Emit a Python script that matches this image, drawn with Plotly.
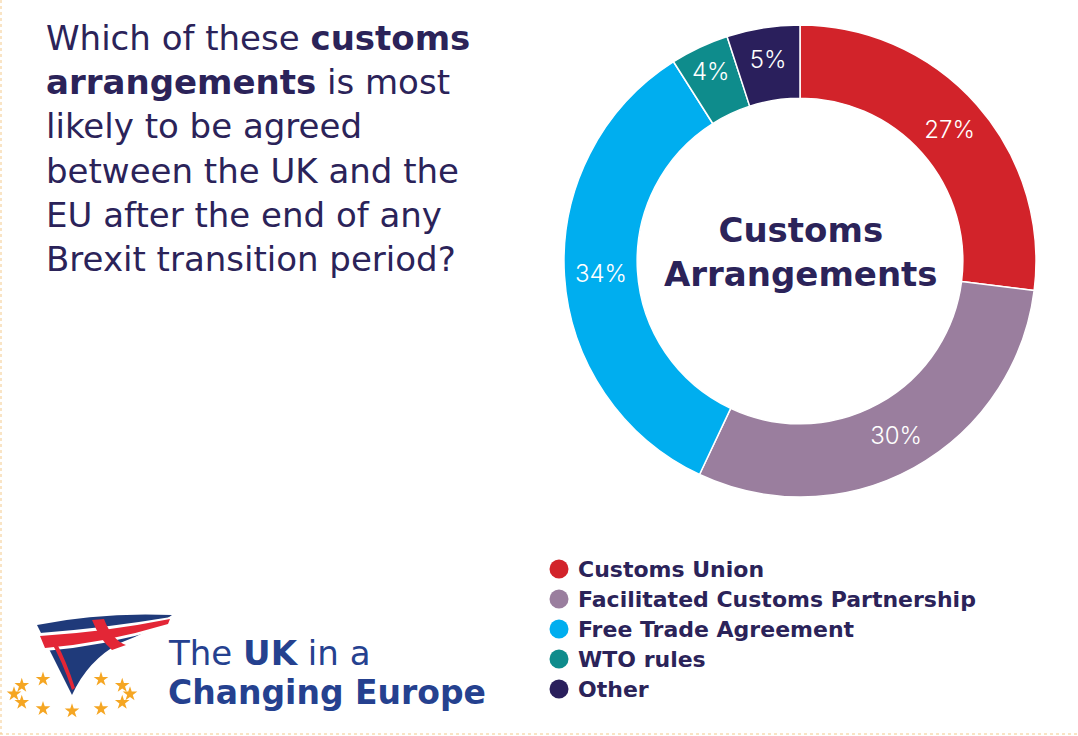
import numpy as np
import plotly.graph_objects as go

categories = ["Customs Union", "Facilitated Customs Partnership", "Free Trade Agreement", "WTO rules", "Other"]
values = [27, 30, 34, 4, 5]
colors = ["#D2232A", "#9A7E9E", "#00AEEF", "#0E8C8C", "#2A1F5C"]

NAVY = "#2B2359"
FONT = "DejaVu Sans"
PFONT = "Inter"
W, H = 1078, 736

fig = go.Figure()

# Donut
cx0, cx1 = 563, 1037
cy0, cy1 = 25, 497
fig.add_trace(go.Pie(
    labels=categories, values=values, hole=0.69, sort=False, direction="clockwise",
    rotation=0, marker=dict(colors=colors, line=dict(color="white", width=1.5)),
    texttemplate="%{value}%", textposition="inside", insidetextorientation="horizontal",
    textfont=dict(family=PFONT, size=24, color="white", weight=300),
    domain=dict(x=[cx0 / W, cx1 / W], y=[1 - cy1 / H, 1 - cy0 / H]),
    showlegend=False, hoverinfo="label+percent",
))

# Legend (manual, circular markers)
leg_x = 559
leg_y = [569 + 30 * i for i in range(len(categories))]
fig.add_trace(go.Scatter(
    x=[leg_x] * len(categories), y=leg_y, mode="markers",
    marker=dict(size=19, color=colors), showlegend=False, hoverinfo="skip",
))
for name, yy in zip(categories, leg_y):
    fig.add_annotation(x=leg_x + 17, y=yy, xref="x", yref="y", text=f"<b>{name}</b>",
                       showarrow=False, xanchor="left", yanchor="middle",
                       font=dict(family=FONT, size=22, color=NAVY))

# Centre text
fig.add_annotation(x=801, y=252, xref="x", yref="y", text="<b>Customs<br>Arrangements</b>",
                   showarrow=False, xanchor="center", yanchor="middle",
                   font=dict(family=FONT, size=34, color=NAVY))

# Question
fig.add_annotation(x=44, y=16, xref="x", yref="y",
                   text="Which of these <b>customs</b><br><b>arrangements</b> is most<br>likely to be agreed<br>between the UK and the<br>EU after the end of any<br>Brexit transition period?",
                   showarrow=False, xanchor="left", yanchor="top", align="left",
                   font=dict(family=FONT, size=34, color=NAVY))

# Logo text
LOGO_BLUE = "#25418F"
fig.add_annotation(x=166, y=675, xref="x", yref="y", text="The <b>UK</b> in a",
                   showarrow=False, xanchor="left", yanchor="bottom",
                   font=dict(family=FONT, size=34, color=LOGO_BLUE))
fig.add_annotation(x=166, y=671, xref="x", yref="y", text="<b>Changing Europe</b>",
                   showarrow=False, xanchor="left", yanchor="top",
                   font=dict(family=FONT, size=33, color=LOGO_BLUE))

# Logo stars
ang = np.linspace(0, 2 * np.pi, 12, endpoint=False)
fig.add_trace(go.Scatter(x=72 + 58 * np.cos(ang), y=694 + 17 * np.sin(ang), mode="markers",
                         marker=dict(symbol="star", size=11, color="#F5A623"),
                         showlegend=False, hoverinfo="skip"))

# Logo flag (simplified)
shapes = []
shapes.append(dict(type="path", xref="x", yref="y",
                   path="M 37 625 Q 100 612 172 615 Q 150 632 120 643 Q 88 660 72 695 Z",
                   fillcolor="#1F3A7A", line=dict(width=0)))
shapes.append(dict(type="path", xref="x", yref="y",
                   path="M 40 633 Q 105 628 171 617 L 167 627 Q 105 646 45 651 Z",
                   fillcolor="white", line=dict(width=0)))
shapes.append(dict(type="path", xref="x", yref="y",
                   path="M 40 636 Q 105 632 170 619 L 168 624 Q 105 643 45 648 Z",
                   fillcolor="#E32636", line=dict(width=0)))
shapes.append(dict(type="path", xref="x", yref="y",
                   path="M 92 620 L 104 619 Q 112 640 126 645 L 112 650 Q 100 640 92 620 Z",
                   fillcolor="#E32636", line=dict(width=0)))
shapes.append(dict(type="path", xref="x", yref="y",
                   path="M 50 640 Q 62 660 72 690 L 75 688 Q 66 660 56 642 Z",
                   fillcolor="#E32636", line=dict(width=0)))
# faint dotted border
shapes.append(dict(type="line", xref="x", yref="y", x0=1, x1=1, y0=0, y1=734,
                   line=dict(color="#F3C98B", width=1, dash="dot")))
shapes.append(dict(type="line", xref="x", yref="y", x0=0, x1=W, y0=734, y1=734,
                   line=dict(color="#F3C98B", width=1, dash="dot")))

fig.update_layout(
    width=W, height=H, margin=dict(l=0, r=0, t=0, b=0),
    paper_bgcolor="white", plot_bgcolor="rgba(0,0,0,0)",
    xaxis=dict(range=[0, W], visible=False, fixedrange=True),
    yaxis=dict(range=[H, 0], visible=False, fixedrange=True),
    shapes=shapes, showlegend=False,
    uniformtext=dict(minsize=24, mode="show"),
)

fig.write_html("out.html")
